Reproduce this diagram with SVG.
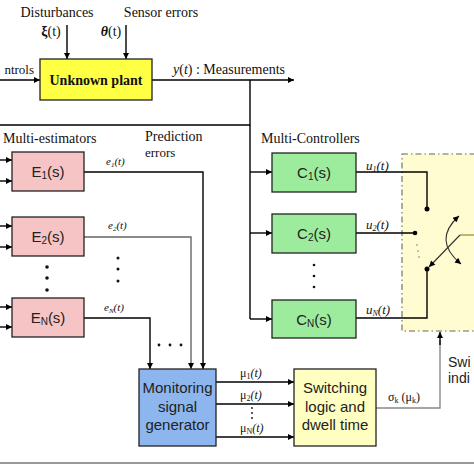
<svg xmlns="http://www.w3.org/2000/svg" width="474" height="474" viewBox="0 0 474 474">
<defs>
<marker id="arr" viewBox="0 0 10 10" refX="10" refY="5" markerWidth="8" markerHeight="6" orient="auto-start-reverse" markerUnits="userSpaceOnUse"><path d="M0,0 L10,5 L0,10 z" fill="#000"/></marker>
<style>
.serif{font-family:"Liberation Serif","Times New Roman",serif;fill:#111}
.sans{font-family:"Liberation Sans",Arial,sans-serif;fill:#222}
.box{stroke:#222;stroke-width:1.3}
.ln{fill:none;stroke:#000;stroke-width:1.4}
.gl{fill:none;stroke:#666;stroke-width:1.4}
.it{font-style:italic}
</style>
</defs>
<rect width="474" height="474" fill="#fff"/>

<g id="switchbox">
<rect x="402" y="154" width="80" height="177" fill="#fffcd2" stroke="#666" stroke-width="1.1" stroke-dasharray="6,3,1.5,3"/>
</g>

<g id="connectors">
<path class="ln" d="M0,80 H40" marker-end="url(#arr)"/>
<path class="ln" d="M67,25 V59" marker-end="url(#arr)"/>
<path class="ln" d="M126,25 V59" marker-end="url(#arr)"/>
<path class="ln" d="M152,80 H294" marker-end="url(#arr)"/>
<path class="ln" d="M250,80 V125 H0"/>
<path class="ln" d="M250,125 V319"/>
<path class="ln" d="M250,172 H272" marker-end="url(#arr)"/>
<path class="ln" d="M250,233 H272" marker-end="url(#arr)"/>
<path class="ln" d="M250,319 H272" marker-end="url(#arr)"/>
<path class="ln" d="M0,160 H12" marker-end="url(#arr)"/>
<path class="ln" d="M0,181 H12" marker-end="url(#arr)"/>
<path class="ln" d="M0,226 H12" marker-end="url(#arr)"/>
<path class="ln" d="M0,247 H12" marker-end="url(#arr)"/>
<path class="ln" d="M0,307 H12" marker-end="url(#arr)"/>
<path class="ln" d="M0,327 H12" marker-end="url(#arr)"/>
<path class="ln" d="M84,172 H203 V369" marker-end="url(#arr)"/>
<path class="gl" d="M84,237 H191 V369" marker-end="url(#arr)"/>
<path class="ln" d="M84,318 H150 V369" marker-end="url(#arr)"/>
<path class="ln" d="M356,172 H427 V209"/>
<path class="ln" d="M356,233 H415"/>
<path class="ln" d="M356,318 H427 V270"/>
<circle cx="427" cy="209" r="2.5"/>
<circle cx="415" cy="233" r="2.3"/>
<circle cx="427" cy="269" r="2.5"/>
<circle cx="417" cy="245" r="0.8" fill="#777"/>
<circle cx="418" cy="251" r="0.8" fill="#777"/>
<circle cx="419" cy="257" r="0.8" fill="#777"/>
<path d="M460,235 H476" fill="none" stroke="#8a8a40" stroke-width="1.2"/>
<path d="M460,235 L429,267" fill="none" stroke="#333" stroke-width="1.1" marker-end="url(#arr)"/>
<path d="M459,216 Q432,240 461,264" fill="none" stroke="#333" stroke-width="1.1" marker-start="url(#arr)" marker-end="url(#arr)"/>
<path class="ln" d="M216,382 H294" marker-end="url(#arr)"/>
<path class="ln" d="M216,404 H294" marker-end="url(#arr)"/>
<path class="ln" d="M216,437 H294" marker-end="url(#arr)"/>
<path d="M376,408 H440 V340" fill="none" stroke="#888" stroke-width="1.4"/>
<path class="ln" d="M440,345 V332" marker-end="url(#arr)"/>
<path d="M0,463 H474" stroke="#777" stroke-width="1.5"/>
<g fill="#111">
<circle cx="159" cy="345" r="1.4"/><circle cx="170" cy="345" r="1.4"/><circle cx="181" cy="345" r="1.4"/>
<circle cx="47" cy="267" r="1.8"/><circle cx="47" cy="278" r="1.8"/><circle cx="47" cy="290" r="1.8"/>
<circle cx="118" cy="258" r="1.5"/><circle cx="118" cy="269" r="1.5"/><circle cx="118" cy="281" r="1.5"/>
<circle cx="314" cy="265" r="1.3"/><circle cx="314" cy="276" r="1.3"/><circle cx="314" cy="287" r="1.3"/>
<circle cx="252" cy="408" r="0.9"/><circle cx="252" cy="413" r="0.9"/><circle cx="252" cy="418" r="0.9"/>
</g>
</g>

<g id="plant">
<rect class="box" x="40" y="59" width="112" height="41" fill="#ffff44"/>
<text class="serif" x="96" y="85" font-size="14" font-weight="bold" text-anchor="middle">Unknown plant</text>
</g>

<g id="est1">
<rect class="box" x="12" y="152" width="72" height="39" fill="#f6c4c4"/>
<text class="sans" x="48" y="177" font-size="15" text-anchor="middle">E<tspan font-size="10" dy="2">1</tspan><tspan dy="-2">(s)</tspan></text>
</g>
<g id="est2">
<rect class="box" x="12" y="217" width="72" height="39" fill="#f6c4c4"/>
<text class="sans" x="48" y="242" font-size="15" text-anchor="middle">E<tspan font-size="10" dy="2">2</tspan><tspan dy="-2">(s)</tspan></text>
</g>
<g id="estN">
<rect class="box" x="12" y="298" width="72" height="39" fill="#f6c4c4"/>
<text class="sans" x="48" y="323" font-size="15" text-anchor="middle">E<tspan font-size="10" dy="2">N</tspan><tspan dy="-2">(s)</tspan></text>
</g>

<g id="ctrl1">
<rect class="box" x="272" y="153" width="84" height="39" fill="#9dec9d"/>
<text class="sans" x="314" y="178" font-size="15" text-anchor="middle">C<tspan font-size="10" dy="2">1</tspan><tspan dy="-2">(s)</tspan></text>
</g>
<g id="ctrl2">
<rect class="box" x="272" y="214" width="84" height="39" fill="#9dec9d"/>
<text class="sans" x="314" y="239" font-size="15" text-anchor="middle">C<tspan font-size="10" dy="2">2</tspan><tspan dy="-2">(s)</tspan></text>
</g>
<g id="ctrlN">
<rect class="box" x="272" y="300" width="84" height="38" fill="#9dec9d"/>
<text class="sans" x="314" y="325" font-size="15" text-anchor="middle">C<tspan font-size="10" dy="2">N</tspan><tspan dy="-2">(s)</tspan></text>
</g>

<g id="monitor">
<rect class="box" x="139" y="369" width="77" height="77" fill="#8db6ee"/>
<text class="sans" x="177.5" y="393" font-size="15" text-anchor="middle">Monitoring</text>
<text class="sans" x="177.5" y="412" font-size="15" text-anchor="middle">signal</text>
<text class="sans" x="177.5" y="430" font-size="15" text-anchor="middle">generator</text>
</g>

<g id="switchlogic">
<rect class="box" x="294" y="369" width="82" height="77" fill="#ffffc2"/>
<text class="sans" x="335" y="393" font-size="15" text-anchor="middle">Switching</text>
<text class="sans" x="335" y="412" font-size="15" text-anchor="middle">logic and</text>
<text class="sans" x="335" y="430" font-size="15" text-anchor="middle">dwell time</text>
</g>

<g id="labels">
<text class="serif" x="57" y="17" font-size="14" text-anchor="middle">Disturbances</text>
<text class="serif" x="161" y="17" font-size="14" text-anchor="middle">Sensor errors</text>
<text class="serif" x="51" y="36" font-size="14" text-anchor="middle"><tspan font-weight="bold">ξ</tspan>(t)</text>
<text class="serif" x="111" y="36" font-size="14" text-anchor="middle"><tspan class="it" font-weight="bold">θ</tspan>(t)</text>
<text class="serif" x="34" y="74" font-size="13" text-anchor="end">ntrols</text>
<text class="serif" x="173" y="74" font-size="14"><tspan class="it">y</tspan>(<tspan class="it">t</tspan>) : Measurements</text>
<text class="serif" x="3" y="143" font-size="14">Multi-estimators</text>
<text class="serif" x="145" y="141" font-size="14">Prediction</text>
<text class="serif" x="145" y="157" font-size="13">errors</text>
<text class="serif" x="261" y="143" font-size="14">Multi-Controllers</text>
<text class="serif it" x="106" y="165" font-size="11">e<tspan font-size="7" dy="2">1</tspan><tspan dy="-2">(t)</tspan></text>
<text class="serif it" x="108" y="229" font-size="11">e<tspan font-size="7" dy="2">2</tspan><tspan dy="-2">(t)</tspan></text>
<text class="serif it" x="104" y="311" font-size="11">e<tspan font-size="7" dy="2">N</tspan><tspan dy="-2">(t)</tspan></text>
<text class="serif it" x="366" y="170" font-size="13">u<tspan font-size="8" dy="2">1</tspan><tspan dy="-2">(t)</tspan></text>
<text class="serif it" x="366" y="229" font-size="13">u<tspan font-size="8" dy="2">2</tspan><tspan dy="-2">(t)</tspan></text>
<text class="serif it" x="366" y="314" font-size="13">u<tspan font-size="8" dy="2">N</tspan><tspan dy="-2">(t)</tspan></text>
<text class="serif" x="240" y="377" font-size="12">μ<tspan font-size="8" dy="2">1</tspan><tspan dy="-2" class="it">(t)</tspan></text>
<text class="serif" x="240" y="399" font-size="12">μ<tspan font-size="8" dy="2">2</tspan><tspan dy="-2" class="it">(t)</tspan></text>
<text class="serif" x="240" y="432" font-size="12">μ<tspan font-size="8" dy="2">N</tspan><tspan dy="-2" class="it">(t)</tspan></text>
<text class="serif" x="388" y="401" font-size="12">σ<tspan font-size="8" dy="2">k</tspan><tspan dy="-2"> (μ</tspan><tspan font-size="8" dy="2">k</tspan><tspan dy="-2">)</tspan></text>
<text class="sans" x="448" y="367" font-size="14">Swi</text>
<text class="sans" x="448" y="383" font-size="14">indi</text>
</g>
</svg>
